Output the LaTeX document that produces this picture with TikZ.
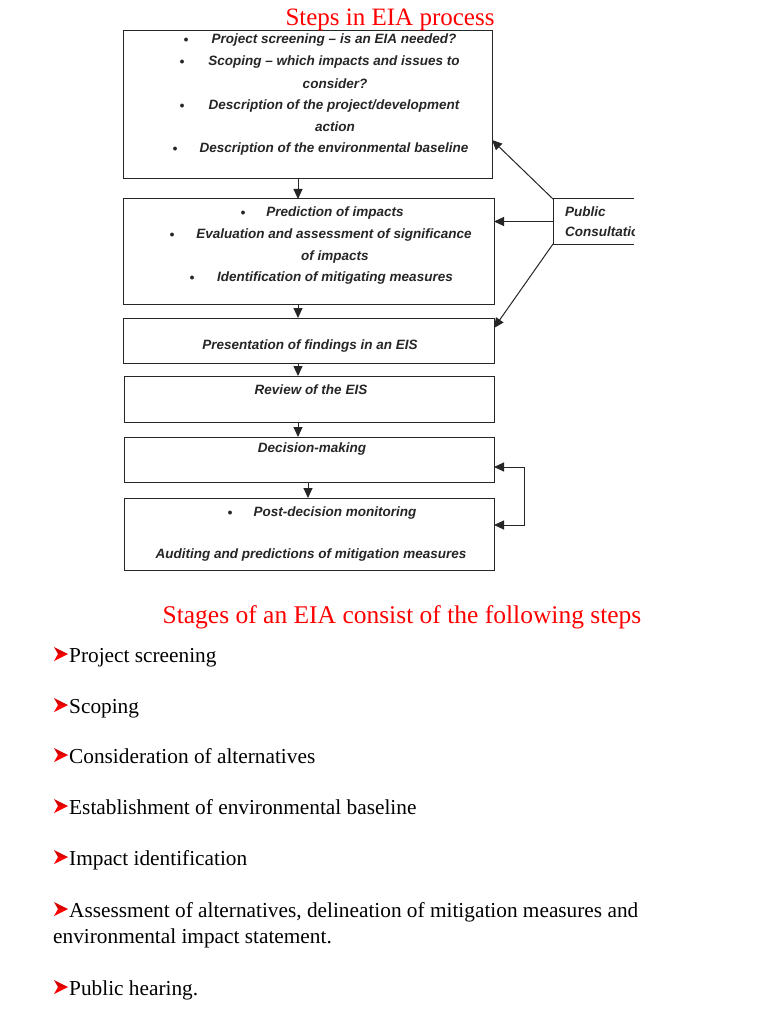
\documentclass[tikz,border=0pt]{standalone}
\usepackage{fontspec}
\setmainfont{Liberation Serif}
\newfontfamily\boxfont{Liberation Sans}
\usetikzlibrary{arrows.meta,calc}
\begin{document}
\begin{tikzpicture}[x=1pt,y=-1pt,
  box/.style={draw=black!85,line width=1pt,inner sep=0pt,outer sep=0pt},
  arr/.style={-{Triangle[length=10pt,width=9pt]},line width=1pt,draw=black!85},
  darr/.style={{Triangle[length=10pt,width=9pt]}-{Triangle[length=10pt,width=9pt]},line width=1pt,draw=black!85},
  bt/.style={font=\boxfont\bfseries\itshape\fontsize{13.5}{15}\selectfont,inner sep=0pt,text=black!85},
  hd/.style={text=red,font=\fontsize{25}{30}\selectfont,inner sep=0pt},
  li/.style={font=\fontsize{21.3}{25}\selectfont,inner sep=0pt,anchor=base west},
  larrow/.pic={
    \fill[red!85!black] (0,-7) -- (14,0) -- (4,0) -- cycle;
    \fill[red] (0,7) -- (14,0) -- (4,0) -- cycle;
  }]
\useasboundingbox (0,0) rectangle (768,1024);
\fill[white] (0,0) rectangle (768,1024);

% boxes
\node[box,minimum width=369pt,minimum height=148pt] (b1) at (307.5,105) {};
\node[box,minimum width=371pt,minimum height=105pt] (b2) at (308.5,251.5) {};
\node[box,minimum width=371pt,minimum height=45pt] (b3) at (308.5,340.5) {};
\node[box,minimum width=370pt,minimum height=46pt] (b4) at (309,399) {};
\node[box,minimum width=370pt,minimum height=45pt] (b5) at (309,459.5) {};
\node[box,minimum width=370pt,minimum height=72pt] (b6) at (309,534) {};

% title
\node[hd] (title) at (390,20) {Steps in EIA process};

% box 1 text
\node[bt] (t11) at (334,40) {Project screening – is an EIA needed?};
\node[bt] (u11) at (186,41) {•};
\node[bt] (t12) at (334,62) {Scoping – which impacts and issues to};
\node[bt] (u12) at (182,63) {•};
\node[bt] (t13) at (335,84) {consider?};
\node[bt] (t14) at (334,106) {Description of the project/development};
\node[bt] (u14) at (182,107) {•};
\node[bt] (t15) at (335,127) {action};
\node[bt] (t16) at (334,149) {Description of the environmental baseline};
\node[bt] (u16) at (175,150) {•};

% box 2 text
\node[bt] (t21) at (335,213) {Prediction of impacts};
\node[bt] (u21) at (243,214) {•};
\node[bt] (t22) at (334,235) {Evaluation and assessment of significance};
\node[bt] (u22) at (172,236) {•};
\node[bt] (t23) at (335,257) {of impacts};
\node[bt] (t24) at (335,278) {Identification of mitigating measures};
\node[bt] (u24) at (192,279) {•};

% other boxes
\node[bt] (t31) at (310,346) {Presentation of findings in an EIS};
\node[bt] (t41) at (311,390) {Review of the EIS};
\node[bt] (t51) at (312,449) {Decision-making};
\node[bt] (t61) at (335,513) {Post-decision monitoring};
\node[bt] (u61) at (230,514) {•};
\node[bt] (t62) at (311,555) {Auditing and predictions of mitigation measures};

% flow arrows
\coordinate (ax) at (298,0);
\coordinate (bx) at (308,0);
\draw[arr] (b1.south -| ax) -- (b2.north -| ax);
\draw[arr] (b2.south -| ax) -- (b3.north -| ax);
\draw[arr] (b3.south -| ax) -- (b4.north -| ax);
\draw[arr] (b4.south -| ax) -- (b5.north -| ax);
\draw[arr] (b5.south -| bx) -- (b6.north -| bx);

% feedback loop
\coordinate (f6) at (494,525);
\coordinate (f5) at (494,467);
\coordinate (fr) at (524,0);
\draw[darr] (f6) -- (f6 -| fr) -- (f5 -| fr) -- (f5);

% public consultation
\node[inner sep=0pt,outer sep=0pt,minimum width=81pt,minimum height=45pt] (pc) at (593.5,221.5) {};
\draw[box] (pc.north east) -- (pc.north west) -- (pc.south west) -- (pc.south east);
\begin{scope}
  \clip (553,190) rectangle (634,252);
  \node[bt,anchor=west] (pc1) at (565,212) {Public};
  \node[bt,anchor=west] (pc2) at (565,232) {Consultation};
\end{scope}
\coordinate (p1) at (0,140);
\coordinate (p3) at (0,328);
\draw[arr] (pc.north west) -- (b1.east |- p1);
\draw[arr] (pc.west) -- (b2.east |- pc.west);
\draw[arr] (pc.south west) -- (b3.east |- p3);

% second heading
\node[hd,font=\fontsize{25.5}{30}\selectfont] (title2) at (402,617) {Stages of an EIA consist of the following steps};

% list
\pic at (54,654) {larrow};
\node[li] (l1) at (69,662) {Project screening};
\pic at (54,705) {larrow};
\node[li] (l2) at (69,713) {Scoping};
\pic at (54,755) {larrow};
\node[li] (l3) at (69,763) {Consideration of alternatives};
\pic at (54,806) {larrow};
\node[li] (l4) at (69,814) {Establishment of environmental baseline};
\pic at (54,857) {larrow};
\node[li] (l5) at (69,865) {Impact identification};
\pic at (54,909) {larrow};
\node[li] (l6) at (69,917) {Assessment of alternatives, delineation of mitigation measures and};
\node[li] (l7) at (53,943) {environmental impact statement.};
\pic at (54,987) {larrow};
\node[li] (l8) at (69,995) {Public hearing.};
\end{tikzpicture}
\end{document}
